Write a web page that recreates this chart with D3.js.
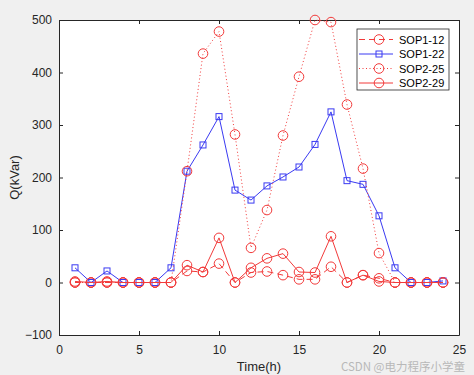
<!DOCTYPE html>
<html lang="en">
<head>
<meta charset="UTF-8">
<title>SOP reactive power</title>
<script src="https://d3js.org/d3.v7.min.js"></script>
<style>
    body { margin: 0; background: #f0f0f0; font-family: Arial, "Liberation Sans", sans-serif; }
    svg { display: block; }
    .axis text { font-size: 12px; fill: #262626; font-family: Arial, "Liberation Sans", sans-serif; }
    .axis path, .axis line { stroke: #262626; }
</style>
</head>
<body>
<div id="chart"></div>
<script>
    // hours 1..24
    const hours = d3.range(1, 25);
    const sop1_12 = [0, 0, 0, 0, 0, 0, 0, 22, 20, 36, 0, 19, 21, 14, 6, 6, 30, 0, 14, 8, 0, 0, 0, 0];
    const sop1_22 = [28, 0, 22, 0, 0, 0, 28, 212, 262, 316, 176, 157, 184, 201, 220, 263, 325, 194, 187, 127, 28, 0, 0, 3];
    const sop2_25 = [0, 0, 0, 0, 0, 0, 0, 212, 436, 478, 282, 66, 138, 280, 392, 500, 496, 339, 217, 56, 0, 0, 0, 0];
    const sop2_29 = [2, 0, 2, 0, 0, 0, 0, 33, 20, 85, 0, 28, 46, 55, 20, 19, 88, 0, 14, 2, 0, 0, 0, 0];
    const xTicks = [0, 5, 10, 15, 20, 25];
    const yTicks = [-100, 0, 100, 200, 300, 400, 500];

    const series = [
        {name: "SOP1-12", values: sop1_12, color: "#f23a3a", dash: "6,4", marker: "circle"},
        {name: "SOP1-22", values: sop1_22, color: "#3a3af2", dash: null, marker: "square"},
        {name: "SOP2-25", values: sop2_25, color: "#f23a3a", dash: "1,2.5", marker: "circle"},
        {name: "SOP2-29", values: sop2_29, color: "#f23a3a", dash: null, marker: "circle"}
    ];

    const W = 474, H = 375;
    const margin = {top: 20, right: 15, bottom: 40, left: 59};
    const width = W - margin.left - margin.right,
        height = H - margin.top - margin.bottom;

    const root = d3.select("#chart").append("svg")
        .attr("width", W).attr("height", H);

    const svg = root.append("g")
        .attr("transform", `translate(${margin.left},${margin.top})`);

    const x = d3.scaleLinear().domain([0, 25]).range([0, width]);
    const y = d3.scaleLinear().domain([-100, 500]).range([height, 0]);

    svg.append("rect")
        .attr("width", width).attr("height", height)
        .attr("fill", "#fff");

    // axes, ticks pointing inward, box on all sides
    svg.append("g").attr("class", "axis")
        .attr("transform", `translate(0,${height})`)
        .call(d3.axisBottom(x).tickValues(xTicks).tickSizeInner(-4).tickSizeOuter(0).tickPadding(10));
    svg.append("g").attr("class", "axis")
        .call(d3.axisTop(x).tickValues(xTicks).tickSizeInner(-4).tickSizeOuter(0).tickFormat(""));
    svg.append("g").attr("class", "axis")
        .call(d3.axisLeft(y).tickValues(yTicks).tickSizeInner(-4).tickSizeOuter(0).tickPadding(7));
    svg.append("g").attr("class", "axis")
        .attr("transform", `translate(${width},0)`)
        .call(d3.axisRight(y).tickValues(yTicks).tickSizeInner(-4).tickSizeOuter(0).tickFormat(""));

    const line = d3.line()
        .x((d, i) => x(hours[i]))
        .y(d => y(d));

    function drawMarker(g, type, color) {
        if (type === "square") {
            g.append("rect")
                .attr("x", -3).attr("y", -3).attr("width", 6).attr("height", 6)
                .attr("fill", "none").attr("stroke", color).attr("stroke-width", 1);
        } else {
            g.append("circle")
                .attr("r", 4.8)
                .attr("fill", "none").attr("stroke", color).attr("stroke-width", 1);
        }
    }

    series.forEach(s => {
        svg.append("path")
            .datum(s.values)
            .attr("d", line)
            .attr("fill", "none")
            .attr("stroke", s.color)
            .attr("stroke-width", 1)
            .attr("stroke-dasharray", s.dash);

        svg.selectAll(null)
            .data(s.values)
            .enter()
            .append("g")
            .attr("transform", (d, i) => `translate(${x(hours[i])},${y(d)})`)
            .each(function() { drawMarker(d3.select(this), s.marker, s.color); });
    });

    // axis labels
    svg.append("text")
        .attr("x", width / 2)
        .attr("y", height + 36)
        .attr("text-anchor", "middle")
        .style("font-size", "13px")
        .style("fill", "#262626")
        .text("Time(h)");

    svg.append("text")
        .attr("transform", `translate(${-40},${height / 2}) rotate(-90)`)
        .attr("text-anchor", "middle")
        .style("font-size", "13px")
        .style("fill", "#262626")
        .text("Q(kVar)");

    // legend
    const legend = svg.append("g")
        .attr("transform", `translate(${width - 102},9)`);

    legend.append("rect")
        .attr("width", 92).attr("height", 61)
        .attr("fill", "#fff")
        .attr("stroke", "#262626")
        .attr("stroke-width", 0.8);

    const item = legend.selectAll(".legend-item")
        .data(series)
        .enter()
        .append("g")
        .attr("class", "legend-item")
        .attr("transform", (d, i) => `translate(0,${10.5 + i * 14.5})`);

    item.append("line")
        .attr("x1", 2).attr("x2", 36)
        .attr("stroke", d => d.color)
        .attr("stroke-width", 1)
        .attr("stroke-dasharray", d => d.dash);

    item.append("g")
        .attr("transform", "translate(22,0)")
        .each(function(d) { drawMarker(d3.select(this), d.marker, d.color); });

    item.append("text")
        .attr("x", 42)
        .attr("y", 4)
        .style("font-size", "11px")
        .style("fill", "#000")
        .text(d => d.name);

    // watermark
    root.append("text")
        .attr("x", 465)
        .attr("y", 371)
        .attr("text-anchor", "end")
        .style("font-family", "'Noto Sans CJK SC', sans-serif")
        .style("font-size", "11.5px")
        .style("fill", "#b8b8b8")
        .text("CSDN @电力程序小学童");
</script>
</body>
</html>
